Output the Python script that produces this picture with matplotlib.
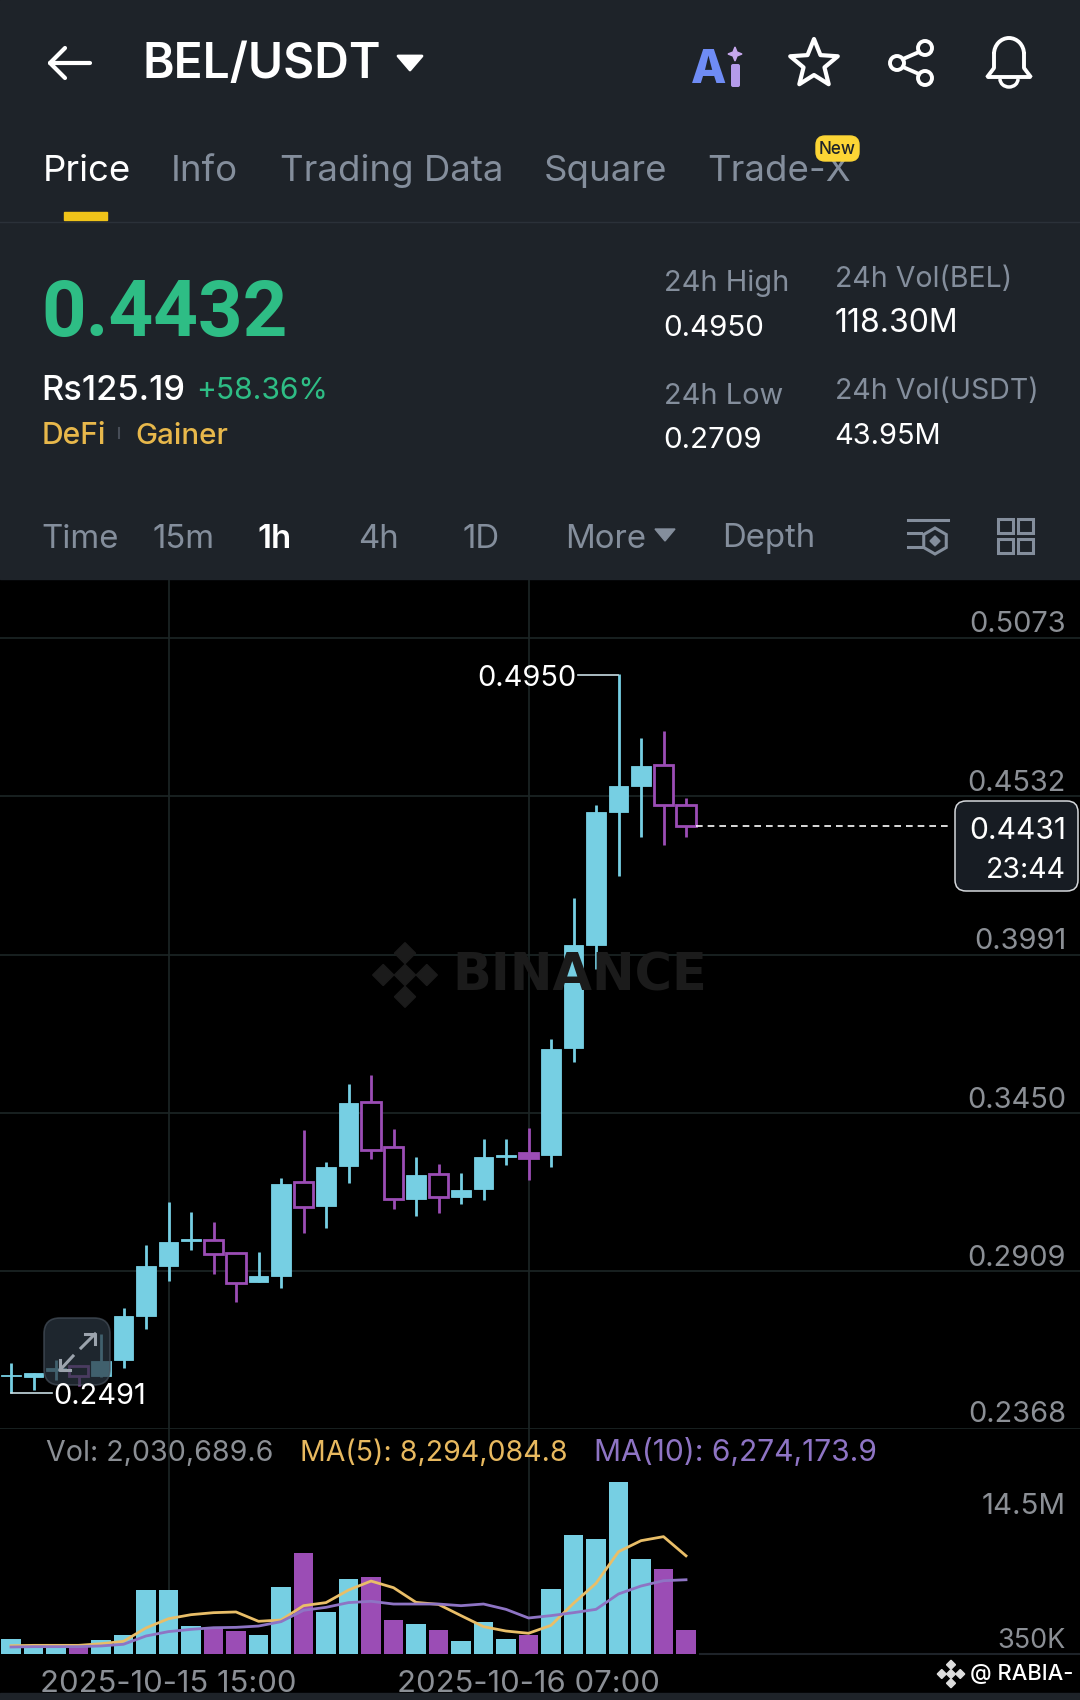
import matplotlib
matplotlib.use("Agg")
import matplotlib.pyplot as plt
from matplotlib.patches import Rectangle, FancyBboxPatch, Circle, Polygon, Arc
import numpy as np

# candle data
opens = [0.2548, 0.2545, 0.2565, 0.2582, 0.2550, 0.2605, 0.2755, 0.2926, 0.3011, 0.3015, 0.2969,
         0.2871, 0.2892, 0.3213, 0.3131, 0.3268, 0.3485, 0.3331, 0.3156, 0.3239, 0.3163, 0.3188,
         0.3299, 0.3311, 0.3305, 0.3671, 0.4023, 0.4479, 0.4568, 0.4639, 0.4501]
closes = [0.2553, 0.2559, 0.2576, 0.2550, 0.2602, 0.2755, 0.2924, 0.3007, 0.3017, 0.2966, 0.2869,
          0.2890, 0.3207, 0.3128, 0.3265, 0.3482, 0.3323, 0.3154, 0.3237, 0.3163, 0.3186, 0.3298,
          0.3306, 0.3295, 0.3668, 0.4025, 0.4479, 0.4568, 0.4636, 0.4501, 0.4431]
highs = [0.2593, 0.2559, 0.2605, 0.2588, 0.2692, 0.2781, 0.2998, 0.3144, 0.3110, 0.3077, 0.2969,
         0.2972, 0.3225, 0.3391, 0.3280, 0.3547, 0.3580, 0.3394, 0.3298, 0.3275, 0.3245, 0.3359,
         0.3359, 0.3397, 0.3701, 0.4185, 0.4503, 0.4950, 0.4733, 0.4757, 0.4527]
lows = [0.2491, 0.2502, 0.2536, 0.2514, 0.2545, 0.2576, 0.2710, 0.2875, 0.2981, 0.2899, 0.2802,
        0.2871, 0.2850, 0.3040, 0.3054, 0.3209, 0.3291, 0.3122, 0.3097, 0.3106, 0.3138, 0.3150,
        0.3270, 0.3220, 0.3264, 0.3622, 0.3941, 0.4261, 0.4393, 0.4365, 0.4393]

# volume in millions
volumes = [1.24, 0.76, 0.76, 0.68, 1.18, 1.60, 5.38, 5.38, 2.39, 2.31, 1.97, 1.58, 5.69, 8.50, 3.52,
           6.33, 6.50, 2.87, 2.51, 2.03, 1.07, 2.73, 1.29, 1.60, 5.52, 10.05, 9.68, 14.50, 7.99, 7.18, 2.03]
ma5 = [0.70, 0.73, 0.73, 0.73, 0.87, 1.07, 2.20, 2.98, 3.32, 3.49, 3.55, 2.76, 2.87, 4.08, 4.34,
       5.40, 6.16, 5.60, 4.36, 4.19, 3.24, 2.31, 1.94, 1.75, 2.42, 4.28, 5.97, 8.64, 9.57, 9.91, 8.29]
ma10 = [0.59, 0.62, 0.62, 0.62, 0.68, 0.82, 1.52, 1.89, 2.08, 2.22, 2.25, 2.36, 2.73, 3.69, 3.94,
        4.34, 4.45, 4.22, 4.22, 4.22, 4.08, 4.22, 3.77, 3.04, 3.24, 3.49, 3.77, 5.07, 5.74, 6.19, 6.27]

price_ticks = [0.5073, 0.4532, 0.3991, 0.3450, 0.2909, 0.2368]
time_ticks = [7, 23]

W, H = 1080, 1700
CYAN = "#76CFE3"
PURPLE = "#9B4DB5"
GREEN = "#2EBD85"
GOLD = "#E8B84B"
GRAY = "#848E9C"
AXIS = "#8B8F95"
HEADER = "#1E2329"
GRID = "#1C2626"
FONT = "Inter"


def main():
    fig = plt.figure(figsize=(W / 100, H / 100), dpi=100, facecolor="black")

    # price panel
    ax = fig.add_axes([0, 1 - 1429 / H, 1, (1429 - 580) / H], facecolor="black")
    ax.set_xlim(-0.489, 47.51)
    ax.set_ylim(0.2368, 0.5272)
    ax.hlines(price_ticks, -1, 48, color=GRID, lw=1.2, zorder=1)
    ax.vlines(time_ticks, 0, 1, transform=ax.get_xaxis_transform(), color=GRID, lw=1.2, zorder=1)
    for i in range(len(opens)):
        up = closes[i] >= opens[i]
        col = CYAN if up else PURPLE
        ax.vlines(i, lows[i], highs[i], color=col, lw=2.0, zorder=2)
        lo, hi = min(opens[i], closes[i]), max(opens[i], closes[i])
        solid = up or hi - lo < 0.003  # thin down candles read as filled
        ax.bar(i, hi - lo, bottom=lo, width=0.85, color=col if solid else "black", edgecolor=col,
               linewidth=0.6 if up else 2.0, zorder=3)
    ax.axis("off")

    # volume panel
    vax = fig.add_axes([0, 1 - 1654 / H, 1, (1654 - 1429) / H], facecolor="black")
    vax.set_xlim(-0.489, 47.51)
    vax.set_ylim(0, 19.0)
    vax.vlines(time_ticks, 0, 1, transform=vax.get_xaxis_transform(), color=GRID, lw=1.2, zorder=1)
    bar_cols = [CYAN if c >= o else PURPLE for o, c in zip(opens, closes)]
    vax.bar(range(len(volumes)), volumes, width=0.86, color=bar_cols, zorder=2)
    vax.plot(ma5, color="#E9BE68", lw=2.0, zorder=3)
    vax.plot(ma10, color="#8E74C4", lw=2.0, zorder=3)
    vax.axis("off")

    # everything else sits on a pixel overlay
    ui = fig.add_axes([0, 0, 1, 1], zorder=5)
    ui.set_xlim(0, W)
    ui.set_ylim(H, 0)
    ui.axis("off")
    ui.patch.set_alpha(0)

    def txt(x, y, s, px, color="white", weight="normal", ha="left", font=FONT, **kw):
        return ui.text(x, y + 3, s, fontsize=px * 0.72, color=color, fontweight=weight, ha=ha,
                       va="center", family=[font, "DejaVu Sans"], **kw)

    def logo(cx, cy, r, color, z=0.5):
        # five small diamonds
        for dx, dy, k in [(0, 0, 0.32), (0, -0.66, 0.32), (0, 0.66, 0.32), (-0.66, 0, 0.32), (0.66, 0, 0.32)]:
            x, y, d = cx + dx * r, cy + dy * r, k * r
            ui.add_patch(Polygon([[x, y - d], [x + d, y], [x, y + d], [x - d, y]], closed=True, color=color, zorder=z))

    ui.add_patch(Rectangle((0, 0), W, 579, color=HEADER, zorder=0))
    ui.add_patch(Rectangle((0, 1693), W, 7, color=HEADER, zorder=0))
    ui.plot([0, W], [222, 222], color="#2B3139", lw=1)

    # top bar
    ui.plot([50, 90], [63, 63], color="white", lw=3, solid_capstyle="round")
    ui.plot([65, 50, 65], [48, 63, 78], color="white", lw=3, solid_capstyle="round", solid_joinstyle="round")
    txt(142, 62, "BEL/USDT", 48, weight="semibold")
    ui.add_patch(Polygon([[398, 56], [422, 56], [410, 70]], closed=True, color="white", joinstyle="round", lw=2))
    txt(691, 68, "A", 46, color="#6F8CF5", weight="heavy")
    ui.add_patch(FancyBboxPatch((733, 66), 5, 19, boxstyle="round,pad=2,rounding_size=2", color="#B49BEA", lw=0))
    ui.add_patch(Polygon([[735, 47], [737, 52], [742, 54], [737, 56], [735, 61], [733, 56], [728, 54], [733, 52]],
                         closed=True, color="#C7A8EE"))
    ang = np.deg2rad(np.arange(0, 360, 36) - 90)
    rad = np.array([25, 11] * 5)
    ui.add_patch(Polygon(np.c_[814 + rad * np.cos(ang), 64 + rad * np.sin(ang)], closed=True, fill=False,
                         ec="white", lw=3, joinstyle="round"))
    for cx, cy in [(925, 48), (897, 63), (925, 78)]:
        ui.add_patch(Circle((cx, cy), 7, fill=False, ec="white", lw=2.8))
    ui.plot([903, 919], [59, 52], color="white", lw=2.8)
    ui.plot([903, 919], [67, 74], color="white", lw=2.8)
    ui.plot([988, 994, 994], [76, 68, 54], color="white", lw=2.8, solid_joinstyle="round")
    ui.plot([1030, 1024, 1024], [76, 68, 54], color="white", lw=2.8, solid_joinstyle="round")
    ui.plot([988, 1030], [77, 77], color="white", lw=2.8, solid_capstyle="round")
    ui.add_patch(Arc((1009, 54), 30, 32, theta1=180, theta2=360, ec="white", lw=2.8))
    ui.add_patch(Arc((1009, 79), 18, 16, theta1=0, theta2=180, ec="white", lw=2.5))

    # tabs
    for x, s, c in [(43, "Price", "white"), (171, "Info", GRAY), (280, "Trading Data", GRAY),
                    (544, "Square", GRAY), (707, "Trade-X", GRAY)]:
        txt(x, 168, s, 36.6, color=c)
    ui.add_patch(Rectangle((64, 212), 43, 8, color="#F0C419"))
    ui.add_patch(FancyBboxPatch((822, 142), 31, 13, boxstyle="round,pad=6,rounding_size=9", color="#FCD535", zorder=4))
    txt(837, 146, "New", 17, color="#1E2329", weight="medium", ha="center", zorder=5)

    # ticker block
    txt(41, 312, "0.4432", 78, color=GREEN, weight="bold", font="Roboto")
    txt(41, 388, "Rs125.19", 34.5, weight="medium")
    txt(196, 388, "+58.36%", 30, color=GREEN)
    txt(42, 433, "DeFi", 30, color=GOLD, weight="medium")
    ui.plot([119, 119], [428, 438], color="#474D57", lw=1.5)
    txt(135, 433, "Gainer", 29.5, color=GOLD, weight="medium")
    for x, y, s, c, size in [(664, 280, "24h High", GRAY, 29), (663, 325, "0.4950", "white", 29.6),
                             (664, 393, "24h Low", GRAY, 29), (663, 437, "0.2709", "white", 29.6),
                             (835, 276, "24h Vol(BEL)", GRAY, 28.5), (835, 320, "118.30M", "white", 32),
                             (835, 388, "24h Vol(USDT)", GRAY, 28.5), (834, 433, "43.95M", "white", 29)]:
        txt(x, y, s, size, color=c)

    # interval row
    for x, s, c, w in [(41, "Time", GRAY, "normal"), (152, "15m", GRAY, "normal"), (257, "1h", "white", "semibold"),
                       (358, "4h", GRAY, "normal"), (463, "1D", GRAY, "normal"), (565, "More", GRAY, "normal"),
                       (722, "Depth", GRAY, "normal")]:
        txt(x, 536, s, 33, color=c, weight=w)
    ui.add_patch(Polygon([[655, 529], [675, 529], [665, 541]], closed=True, color=GRAY))
    for x0, x1, y in [(908, 948, 520), (908, 921, 533), (908, 921, 547)]:
        ui.plot([x0, x1], [y, y], color=GRAY, lw=2.2)
    ang = np.deg2rad(np.arange(0, 360, 60) - 90)
    ui.add_patch(Polygon(np.c_[935 + 13 * np.cos(ang), 541 + 13 * np.sin(ang)], closed=True, fill=False, ec=GRAY, lw=2.2))
    ui.add_patch(Polygon([[935, 536], [940, 541], [935, 546], [930, 541]], closed=True, color=GRAY))
    for x in (998, 1018):
        for y in (519, 539):
            ui.add_patch(Rectangle((x, y), 15, 14, fill=False, ec=GRAY, lw=2.2))

    # watermark
    txt(452, 973, "BINANCE", 51, color="#1B1B1B", weight="bold", font="DejaVu Sans", zorder=0.5)
    logo(405, 975, 33, "#1B1B1B")

    # axis labels
    for y, s in [(622, "0.5073"), (780, "0.4532"), (938, "0.3991"), (1097, "0.3450"), (1255, "0.2909"), (1411, "0.2368")]:
        txt(1066, y, s, 29, color=AXIS, ha="right")
    txt(1066, 1504, "14.5M", 29.5, color=AXIS, ha="right")
    txt(1066, 1638, "350K", 27, color=AXIS, ha="right")
    txt(168, 1681, "2025-10-15 15:00", 31, color=AXIS, ha="center")
    txt(528, 1681, "2025-10-16 07:00", 31, color=AXIS, ha="center")

    # high / low markers
    txt(576, 675, "0.4950", 29, ha="right")
    ui.plot([578, 618], [675, 675], color="#C8DDE2", lw=1.2)
    txt(53, 1394, "0.2491", 29)
    ui.plot([11, 52], [1393, 1393], color="#C8DDE2", lw=1.2)

    # last price
    ui.plot([696, 950], [826, 826], color="white", lw=1.2, ls=(0, (4, 3)))
    ui.add_patch(FancyBboxPatch((962, 808), 109, 76, boxstyle="round,pad=7,rounding_size=11", fc="#171C23", ec="#D5D8DC", lw=1.1))
    txt(1066, 828, "0.4431", 30, ha="right")
    txt(1066, 867, "23:44", 28.5, ha="right")

    # expand button
    ui.add_patch(FancyBboxPatch((56, 1330), 42, 43, boxstyle="round,pad=12,rounding_size=16", fc="#2B3540", ec="#454F5A", lw=1.2, alpha=0.72))
    ui.plot([60, 73], [1370, 1356], color="#9BA3AD", lw=2.2)
    ui.plot([81, 95], [1348, 1334], color="#9BA3AD", lw=2.2)
    ui.plot([60, 60, 70], [1360, 1370, 1370], color="#9BA3AD", lw=2.2)
    ui.plot([85, 95, 95], [1334, 1334, 1344], color="#9BA3AD", lw=2.2)

    # volume legend
    txt(46, 1450, "Vol: 2,030,689.6", 28.6, color=AXIS)
    txt(300, 1450, "MA(5): 8,294,084.8", 28.5, color="#E8B95F")
    txt(594, 1450, "MA(10): 6,274,173.9", 30, color="#8E74C4")
    ui.plot([700, W], [1654, 1654], color="#1E2329", lw=1.5)

    # screenshot tag
    logo(951, 1674, 14, "#DDDDDD", z=3)
    txt(970, 1671, "@ RABIA-", 22, weight="medium")

    plt.savefig("out.png", dpi=100, facecolor=fig.get_facecolor())


if __name__ == "__main__":
    main()
